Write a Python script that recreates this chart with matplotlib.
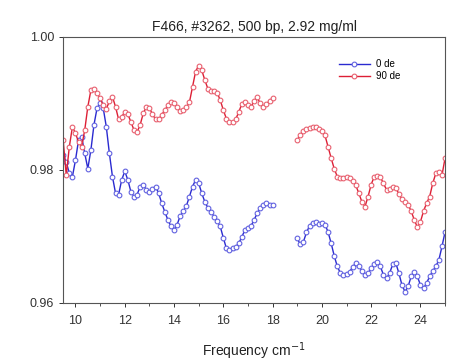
import numpy as np
import matplotlib
matplotlib.use("Agg")
import matplotlib.pyplot as plt
from matplotlib.ticker import MultipleLocator, FormatStrFormatter

plt.rcParams['font.family'] = ['Liberation Sans', 'DejaVu Sans']

# spectra, sampled every 0.125 cm^-1, read from the picture
# 0 de, first window 9.5 - 18.0
blue_a = [.9822, .9812, .9795, .9790, .9815, .9845, .9850, .9825, .9802, .9830,
          .9868, .9893, .9900, .9893, .9865, .9825, .9790, .9765, .9763, .9785,
          .9798, .9785, .9767, .9760, .9763, .9775, .9778, .9770, .9767, .9772,
          .9775, .9765, .9750, .9737, .9725, .9715, .9710, .9718, .9731, .9738,
          .9746, .9760, .9775, .9785, .9780, .9765, .9752, .9743, .9737, .9730,
          .9723, .9715, .9698, .9682, .9680, .9683, .9684, .9690, .9699, .9710,
          .9713, .9716, .9725, .9735, .9743, .9748, .9750, .9747, .9748]
# 0 de, second window 19.0 - 25.0
blue_b = [.9697, .9688, .9692, .9706, .9716, .9721, .9722, .9719, .9721, .9718,
          .9707, .9690, .9671, .9655, .9645, .9642, .9644, .9647, .9654, .9660,
          .9656, .9648, .9642, .9645, .9652, .9659, .9662, .9655, .9642, .9637,
          .9645, .9658, .9660, .9645, .9627, .9617, .9625, .9640, .9647, .9640,
          .9627, .9622, .9630, .9640, .9648, .9655, .9665, .9685, .9707]
# 90 de
red_a = [.9845, .9792, .9835, .9865, .9855, .9842, .9835, .9860, .9895, .9920,
         .9922, .9915, .9908, .9897, .9892, .9903, .9910, .9895, .9876, .9880,
         .9887, .9884, .9872, .9860, .9857, .9868, .9885, .9895, .9893, .9884,
         .9876, .9876, .9883, .9890, .9897, .9902, .9900, .9894, .9889, .9890,
         .9894, .9902, .9925, .9948, .9957, .9950, .9935, .9922, .9918, .9919,
         .9916, .9905, .9890, .9877, .9872, .9872, .9876, .9887, .9899, .9902,
         .9898, .9895, .9904, .9909, .9900, .9895, .9899, .9904, .9908]
red_b = [.9845, .9853, .9858, .9861, .9863, .9864, .9864, .9862, .9858, .9852,
         .9835, .9818, .9802, .9790, .9788, .9788, .9789, .9788, .9784, .9777,
         .9765, .9752, .9745, .9760, .9778, .9790, .9791, .9789, .9780, .9770,
         .9772, .9775, .9773, .9764, .9756, .9752, .9748, .9738, .9725, .9714,
         .9722, .9738, .9750, .9760, .9780, .9795, .9797, .9792, .9818]

x_a = np.linspace(9.5, 18.0, len(blue_a))
x_b = np.linspace(19.0, 25.0, len(blue_b))

fig = plt.figure(figsize=(4.68, 3.62), dpi=100)
ax = fig.add_axes([0.135, 0.163, 0.816, 0.735])

blue_kw = dict(color='#2a2ad0', lw=1.0, marker='o', ms=3.4, mfc='white',
               mec='#6262e0', mew=0.8)
red_kw = dict(color='#dd1f35', lw=1.0, marker='o', ms=3.4, mfc='white',
              mec='#e8606f', mew=0.8)

ax.plot(x_a, blue_a, label='0 de', **blue_kw)
ax.plot(x_b, blue_b, **blue_kw)
ax.plot(x_a, red_a, label='90 de', **red_kw)
ax.plot(x_b, red_b, **red_kw)

ax.set_xlim(9.5, 25)
ax.set_ylim(0.96, 1.00)
ax.xaxis.set_major_locator(MultipleLocator(2))
ax.xaxis.set_minor_locator(MultipleLocator(1))
ax.yaxis.set_major_locator(MultipleLocator(0.02))
ax.yaxis.set_major_formatter(FormatStrFormatter('%.2f'))
ax.tick_params(labelsize=9, colors='#333333', length=3, width=0.7)
ax.tick_params(axis='x', pad=6)
ax.tick_params(which='minor', length=2, width=0.6, color='#333333')
for s in ax.spines.values():
    s.set_color('#555555')
    s.set_linewidth(0.8)

ax.set_title('F466, #3262, 500 bp, 2.92 mg/ml', fontsize=10, pad=4, color='#222222')
ax.set_xlabel('Frequency cm$^{-1}$', fontsize=10, color='#222222', labelpad=9)

ax.legend(loc='upper right', bbox_to_anchor=(0.905, 0.95), frameon=False,
          fontsize=7, handlelength=3.2, labelspacing=0.2, handletextpad=0.6)

plt.savefig('out.png', dpi=100)
